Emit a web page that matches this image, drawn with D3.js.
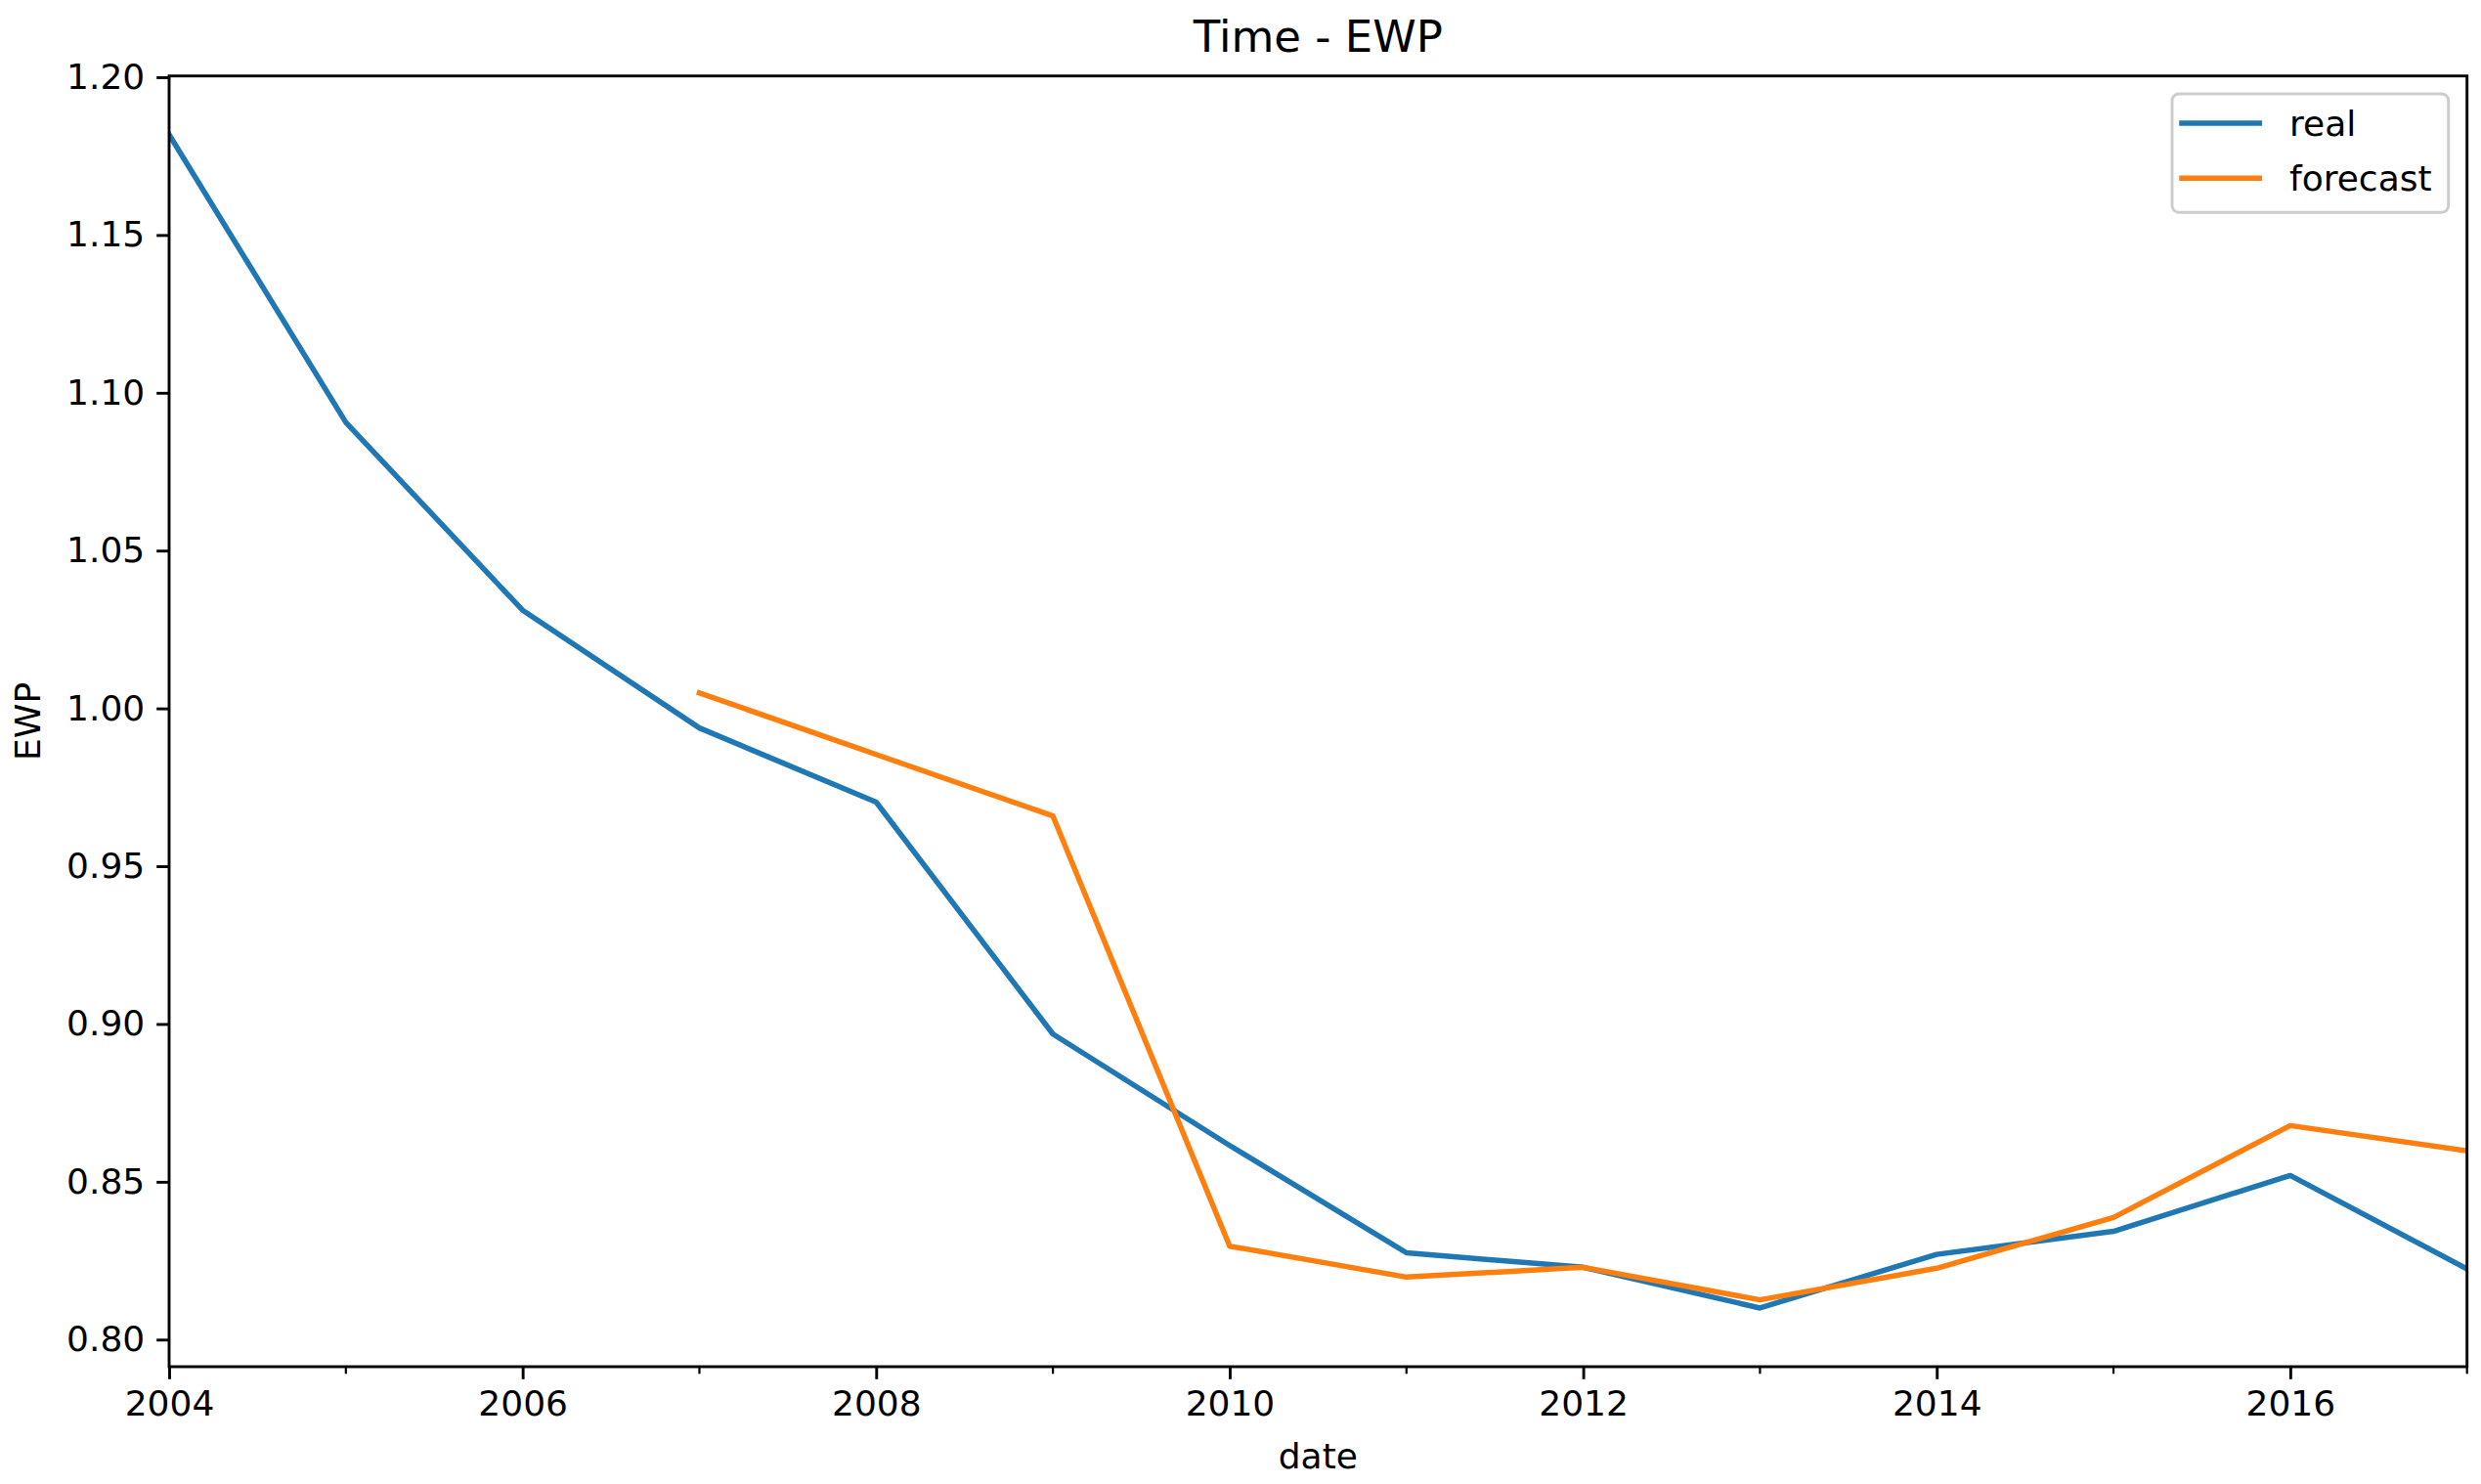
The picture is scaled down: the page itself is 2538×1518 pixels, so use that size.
<!DOCTYPE html>
<html>
<head>
<meta charset="utf-8">
<script src="https://cdn.jsdelivr.net/npm/d3@7"></script>
<style>
  html, body { margin: 0; padding: 0; background: #fff; }
  svg text { font-family: "DejaVu Sans", sans-serif; fill: #000; }
</style>
</head>
<body>
<div id="vis-display"></div>
<script>
// Line chart: real vs forecast EWP per year (matplotlib-style look).

const REAL_YEARS     = [2004, 2005, 2006, 2007, 2008, 2009, 2010, 2011, 2012, 2013, 2014, 2015, 2016, 2017];
const REAL_VALUES    = [1.1818, 1.0906, 1.0311, 0.9938, 0.9703, 0.8968, 0.8615, 0.8275, 0.8229, 0.8100, 0.8270, 0.8343, 0.8520, 0.8224];
const FORECAST_YEARS  = [2007, 2008, 2009, 2010, 2011, 2012, 2013, 2014, 2015, 2016, 2017];
const FORECAST_VALUES = [1.0049, 0.9854, 0.9659, 0.8296, 0.8198, 0.8229, 0.8126, 0.8226, 0.8387, 0.8678, 0.8598];

const Y_TICKS       = [0.80, 0.85, 0.90, 0.95, 1.00, 1.05, 1.10, 1.15, 1.20];
const X_MAJOR_TICKS = [2004, 2006, 2008, 2010, 2012, 2014, 2016];
const X_MINOR_TICKS = [2005, 2007, 2009, 2011, 2013, 2015, 2017];

const SERIES = [
  { label: "real",     years: REAL_YEARS,     values: REAL_VALUES,     color: "#1f77b4" },
  { label: "forecast", years: FORECAST_YEARS, values: FORECAST_VALUES, color: "#ff7f0e" },
];

const W = 2538, H = 1518;
const margin = { top: 77.7, right: 14.3, bottom: 120, left: 173 };
const innerW = W - margin.left - margin.right;
const innerH = H - margin.top - margin.bottom;

const TICK_FONT = 36;
const LINE_W    = 5.5;
const SPINE_W   = 2.9;

const svg = d3.select("#vis-display").append("svg")
  .attr("width", W)
  .attr("height", H);

// ── Scales ────────────────────────────────────────────────────────────────

const allVals = REAL_VALUES.concat(FORECAST_VALUES);
const [vMin, vMax] = d3.extent(allVals);
const pad = (vMax - vMin) * 0.05;   // matplotlib default autoscale margin

const x = d3.scaleLinear()
  .domain([REAL_YEARS[0], REAL_YEARS[REAL_YEARS.length - 1]])
  .range([0, innerW]);

const y = d3.scaleLinear()
  .domain([vMin - pad, vMax + pad])
  .range([innerH, 0]);

const g = svg.append("g")
  .attr("transform", `translate(${margin.left},${margin.top})`);

g.append("clipPath").attr("id", "plot-clip")
  .append("rect").attr("width", innerW).attr("height", innerH);

// ── Lines ─────────────────────────────────────────────────────────────────

const line = d3.line()
  .x(d => x(d[0]))
  .y(d => y(d[1]));

g.append("g")
  .attr("clip-path", "url(#plot-clip)")
  .selectAll("path")
  .data(SERIES)
  .join("path")
    .attr("d", s => line(d3.zip(s.years, s.values)))
    .attr("fill", "none")
    .attr("stroke", s => s.color)
    .attr("stroke-width", LINE_W)
    .attr("stroke-linejoin", "round")
    .attr("stroke-linecap", "square");

// ── Axes ──────────────────────────────────────────────────────────────────

const yAxis = g.append("g")
  .call(d3.axisLeft(y)
    .tickValues(Y_TICKS)
    .tickFormat(d3.format(".2f"))
    .tickSizeInner(12.8)
    .tickSizeOuter(0)
    .tickPadding(12));

const xAxis = g.append("g")
  .attr("transform", `translate(0,${innerH})`)
  .call(d3.axisBottom(x)
    .tickValues(X_MAJOR_TICKS)
    .tickFormat(d3.format("d"))
    .tickSizeInner(12.8)
    .tickSizeOuter(0)
    .tickPadding(12));

g.append("g")
  .attr("transform", `translate(0,${innerH})`)
  .selectAll("line")
  .data(X_MINOR_TICKS)
  .join("line")
    .attr("x1", d => x(d)).attr("x2", d => x(d))
    .attr("y1", 0).attr("y2", 7.3)
    .attr("stroke", "#000")
    .attr("stroke-width", 2.2);

[yAxis, xAxis].forEach(ax => {
  ax.select(".domain").remove();
  ax.selectAll(".tick line").attr("stroke", "#000").attr("stroke-width", SPINE_W);
  ax.selectAll(".tick text")
    .attr("font-family", "DejaVu Sans, sans-serif")
    .style("font-size", TICK_FONT + "px")
    .attr("fill", "#000");
});

// Spines (full box, drawn above lines)
g.append("rect")
  .attr("width", innerW)
  .attr("height", innerH)
  .attr("fill", "none")
  .attr("stroke", "#000")
  .attr("stroke-width", SPINE_W);

// ── Labels ────────────────────────────────────────────────────────────────

svg.append("text")
  .attr("x", margin.left + innerW / 2)
  .attr("y", 53)
  .attr("text-anchor", "middle")
  .style("font-size", "45px")
  .text("Time - EWP");

svg.append("text")
  .attr("x", margin.left + innerW / 2)
  .attr("y", 1502)
  .attr("text-anchor", "middle")
  .style("font-size", TICK_FONT + "px")
  .text("date");

svg.append("text")
  .attr("transform", `translate(41,${margin.top + innerH / 2}) rotate(-90)`)
  .attr("text-anchor", "middle")
  .style("font-size", TICK_FONT + "px")
  .text("EWP");

// ── Legend ────────────────────────────────────────────────────────────────

const legend = svg.append("g").attr("transform", "translate(2222,96)");

legend.append("rect")
  .attr("width", 282.7)
  .attr("height", 121.3)
  .attr("rx", 7).attr("ry", 7)
  .attr("fill", "#fff")
  .attr("fill-opacity", 0.8)
  .attr("stroke", "#cccccc")
  .attr("stroke-width", 2.9);

const item = legend.selectAll("g.item")
  .data(SERIES)
  .join("g")
    .attr("class", "item")
    .attr("transform", (d, i) => `translate(0,${30 + i * 56.3})`);

item.append("line")
  .attr("x1", 10).attr("x2", 89.3)
  .attr("stroke", d => d.color)
  .attr("stroke-width", LINE_W)
  .attr("stroke-linecap", "square");

item.append("text")
  .attr("x", 120)
  .attr("y", 13)
  .style("font-size", TICK_FONT + "px")
  .text(d => d.label);
</script>
</body>
</html>
